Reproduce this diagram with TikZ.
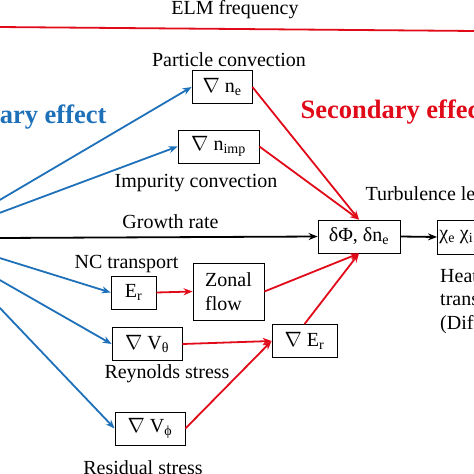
\documentclass[tikz,border=0pt]{standalone}
\usepackage{fontspec}
\setmainfont{Liberation Serif}
\usetikzlibrary{arrows.meta}
\definecolor{effblue}{RGB}{30,112,185}
\definecolor{effred}{RGB}{225,10,25}

\begin{document}
\begin{tikzpicture}[x=1pt,y=-1pt,
  font=\fontsize{20}{23.5}\selectfont,
  qbox/.style={draw,fill=white,line width=0.8pt,minimum height=33pt,inner sep=2pt},
  blueline/.style={draw=effblue,line width=1.8pt,-{Stealth[length=9pt,width=7pt]}},
  redline/.style={draw=effred,line width=1.8pt,-{Stealth[length=9pt,width=7pt]}},
  blackline/.style={draw=black,line width=1.8pt,-{Stealth[length=9pt,width=7pt]}},
  bigtext/.style={font=\fontsize{26.5}{31}\selectfont\bfseries}]
\useasboundingbox (0,0) rectangle (474,474);
\clip (0,0) rectangle (474,474);

\node[anchor=base] (elm) at (235,14) {ELM frequency};
\coordinate (elmL) at (-2,27);
\coordinate (elmR) at (476,31);
\draw[effred,line width=1.8pt] (elmL) -- (elmR);

\node[bigtext,anchor=base east,text=effblue] (prim) at (110,123) {Primary effect};
\node[bigtext,anchor=base west,text=effred] (sec) at (297,118) {Secondary effect};

\node[qbox,minimum width=60pt] (ne) at (222,87) {$\nabla$ n\textsubscript{e}};
\node[qbox,minimum width=81pt] (nimp) at (218.5,146.5) {$\nabla$ n\textsubscript{imp}};
\node[qbox,minimum width=82pt] (dphi) at (359,236.5) {δΦ, δn\textsubscript{e}};
\node[qbox,anchor=west,minimum height=34pt] (chi) at (437,237) {χ\textsubscript{e} χ\textsubscript{i}};
\node[qbox,minimum width=45pt] (er) at (133.5,292.5) {E\textsubscript{r}};
\node[qbox,minimum width=71pt,minimum height=57pt,align=left] (zf) at (228.5,291.5) {Zonal\\flow};
\node[qbox,minimum width=70pt] (vth) at (147,344) {$\nabla$ V\textsubscript{θ}};
\node[qbox,minimum width=70pt] (vph) at (150,428.5) {$\nabla$ V\textsubscript{ϕ}};
\node[qbox,minimum width=65pt] (der) at (304.5,341) {$\nabla$ E\textsubscript{r}};

\node[anchor=base] (pc) at (229,66) {Particle convection};
\node[anchor=base] (ic) at (196,187) {Impurity convection};
\node[anchor=base] (gr) at (170.5,228) {Growth rate};
\node[anchor=base west] (tl) at (362,200) {Turbulence level};
\node[anchor=north west,inner sep=0pt,align=left] (ht) at (440,269) {Heat\\transport\\(Diffusivity)};
\node[anchor=base] (nc) at (126.5,268) {NC transport};
\node[anchor=base] (rs) at (167,378) {Reynolds stress};
\node[anchor=base] (res) at (143,474) {Residual stress};

\coordinate (s1) at (-2,201);
\coordinate (s2) at (-2,213.5);
\coordinate (s3) at (-2,257.5);
\coordinate (s4) at (-2,279);
\coordinate (s5) at (-2,306);
\coordinate (s0) at (-2,238);

\draw[blueline] (s1) -- (ne.west);
\draw[blueline] (s2) -- (nimp.west);
\draw[blueline] (s3) -- (er.west);
\draw[blueline] (s4) -- (vth.west);
\draw[blueline] (s5) -- (vph.west);
\draw[blackline] (s0) -- (dphi.west);

\draw[redline] (ne.east) -- (dphi.north);
\draw[redline] (nimp.east) -- (dphi.north);
\draw[redline] (er.east) -- (zf.west);
\draw[redline] (zf.east) -- (dphi.south);
\draw[redline] (vth.east) -- (der.west);
\draw[redline] (vph.east) -- (der.west);
\draw[redline] (der.north) -- (dphi.south);
\draw[blackline] (dphi.east) -- (chi.west);
\end{tikzpicture}
\end{document}
